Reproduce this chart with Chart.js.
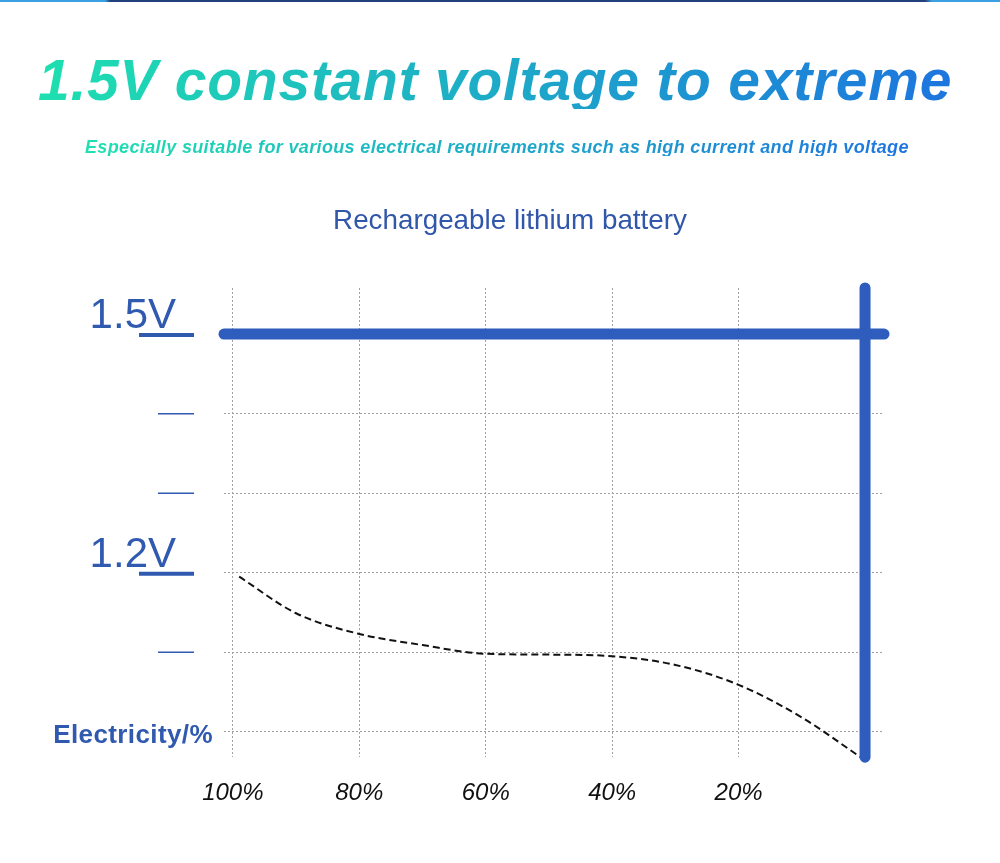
<!DOCTYPE html>
<html>
<head>
<meta charset="utf-8">
<script src="https://cdn.jsdelivr.net/npm/chart.js@4.4.1/dist/chart.umd.min.js"></script>
<style>
  html, body { margin: 0; padding: 0; background: #fff; }
  #wrap { position: relative; width: 1000px; height: 863px; overflow: hidden; font-family: "Liberation Sans", Arial, sans-serif; }
  #topline { position: absolute; left: 0; top: 0; width: 1000px; height: 2px;
    background: linear-gradient(90deg, #3aa2e2 0, #3aa2e2 105px, #22427c 110px, #22427c 925px, #3aa2e2 932px, #3aa2e2 100%); }
  .grad { background: linear-gradient(90deg, #1ee0b0, #1d74df); -webkit-background-clip: text; background-clip: text; color: transparent; white-space: nowrap; }
  #title { position: absolute; left: 38px; top: 52px; font-size: 57px; line-height: 57px; font-weight: bold; font-style: italic; letter-spacing: 0.75px; padding-right: 12px; }
  #subtitle { position: absolute; left: 85px; top: 138px; font-size: 18px; line-height: 18px; font-weight: bold; font-style: italic; letter-spacing: 0.35px; padding-right: 6px; }
  #charttitle { position: absolute; left: 510px; top: 206px; transform: translateX(-50%); font-size: 27.8px; line-height: 27.8px; color: #3157aa; white-space: nowrap; }
  #chart { position: absolute; left: 0; top: 0; }
</style>
</head>
<body>
<div id="wrap">
  <canvas id="chart" width="1000" height="863"></canvas>
  <div id="topline"></div>
  <div id="title" class="grad">1.5V constant voltage to extreme</div>
  <div id="subtitle" class="grad">Especially suitable for various electrical requirements such as high current and high voltage</div>
  <div id="charttitle">Rechargeable lithium battery</div>
</div>
<script>
// axis ticks
const percentTicks = [100, 80, 60, 40, 20, 0];
const percentLabels = ['100%', '80%', '60%', '40%', '20%', ''];
const voltTicks = [1.5, 1.4, 1.3, 1.2, 1.1, 1.0];
const voltLabels = ['1.5V', '', '', '1.2V', '', ''];
const xAxisName = 'Electricity/%';

// axis bounds
const X_MIN = -3;
const X_MAX = 101.4;
const Y_MIN = 0.968;
const Y_MAX = 1.558;

// lithium battery: constant 1.5V, then cut off at 0%
const lithiumVolt = 1.5;
const cutoffPercent = 0;

// ordinary battery discharge curve
const ordinaryPercent = [99, 90, 80, 70, 60, 50, 40, 30, 20, 10, 0.7];
const ordinaryVolts = [1.195, 1.149, 1.123, 1.109, 1.098, 1.097, 1.095, 1.084, 1.059, 1.018, 0.968];

const BLUE = '#2e5dbd';
const LABEL_BLUE = '#3059b0';

// left side voltage labels and dashes, drawn off the y scale
const voltLabelPlugin = {
  id: 'voltLabels',
  afterDraw(chart) {
    const ctx = chart.ctx;
    const y = chart.scales.y;
    ctx.save();
    voltTicks.forEach((v, i) => {
      const py = y.getPixelForValue(v);
      ctx.strokeStyle = LABEL_BLUE;
      if (voltLabels[i]) {
        ctx.lineWidth = 4;
        ctx.beginPath();
        ctx.moveTo(139, py + 1);
        ctx.lineTo(194, py + 1);
        ctx.stroke();
        ctx.fillStyle = LABEL_BLUE;
        ctx.font = '42px "Liberation Sans", Arial, sans-serif';
        ctx.textAlign = 'right';
        ctx.textBaseline = 'alphabetic';
        ctx.fillText(voltLabels[i], 176, py - 6);
      } else if (v !== voltTicks[voltTicks.length - 1]) {
        ctx.lineWidth = 1.5;
        ctx.beginPath();
        ctx.moveTo(158, py);
        ctx.lineTo(194, py);
        ctx.stroke();
      }
    });
    ctx.fillStyle = LABEL_BLUE;
    ctx.font = 'bold 26px "Liberation Sans", Arial, sans-serif';
    ctx.letterSpacing = '0.4px';
    ctx.textAlign = 'right';
    ctx.fillText(xAxisName, 213, y.getPixelForValue(voltTicks[voltTicks.length - 1]) + 11);
    ctx.restore();
  }
};

const ctx = document.getElementById('chart').getContext('2d');
new Chart(ctx, {
  type: 'line',
  data: {
    datasets: [
      {
        label: 'Lithium 1.5V',
        data: [{ x: X_MAX, y: lithiumVolt }, { x: X_MIN, y: lithiumVolt }],
        borderColor: BLUE,
        borderWidth: 11,
        borderCapStyle: 'round',
        pointRadius: 0,
        clip: false,
        order: 1
      },
      {
        label: 'Cut-off',
        data: [{ x: cutoffPercent, y: Y_MAX }, { x: cutoffPercent, y: Y_MIN }],
        borderColor: BLUE,
        borderWidth: 11,
        borderCapStyle: 'round',
        pointRadius: 0,
        clip: false,
        order: 1
      },
      {
        label: 'Ordinary battery',
        data: ordinaryPercent.map((p, i) => ({ x: p, y: ordinaryVolts[i] })),
        borderColor: '#111',
        borderWidth: 2,
        borderDash: [7, 4],
        cubicInterpolationMode: 'monotone',
        pointRadius: 0,
        clip: false,
        order: 2
      }
    ]
  },
  options: {
    responsive: false,
    animation: false,
    layout: { padding: { left: 224, right: 116, top: 288, bottom: 33 } },
    plugins: {
      legend: { display: false },
      title: { display: false },
      tooltip: { enabled: false }
    },
    scales: {
      x: {
        type: 'linear',
        reverse: true,
        min: X_MIN,
        max: X_MAX,
        afterBuildTicks: (axis) => { axis.ticks = percentTicks.map(v => ({ value: v })); },
        ticks: {
          padding: 22,
          color: '#111',
          font: { family: '"Liberation Sans", Arial, sans-serif', size: 24, style: 'italic' },
          callback: (value) => percentLabels[percentTicks.indexOf(value)],
          maxRotation: 0,
          autoSkip: false
        },
        grid: { color: '#a0a0a0', lineWidth: 1, drawTicks: false },
        border: { display: false, dash: [2, 2] }
      },
      y: {
        type: 'linear',
        min: Y_MIN,
        max: Y_MAX,
        afterBuildTicks: (axis) => { axis.ticks = voltTicks.map(v => ({ value: v })); },
        ticks: { display: false },
        grid: { color: '#a0a0a0', lineWidth: 1, drawTicks: false },
        border: { display: false, dash: [2, 2] }
      }
    }
  },
  plugins: [voltLabelPlugin]
});
</script>
</body>
</html>
